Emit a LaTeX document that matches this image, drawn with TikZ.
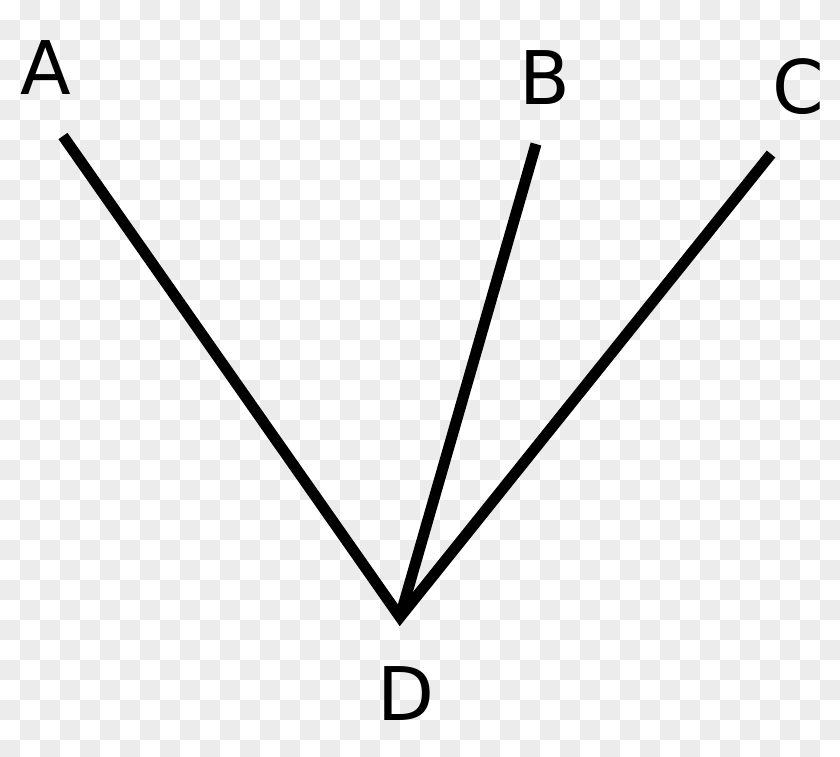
\documentclass[tikz,border=0pt]{standalone}
\usepackage{fontspec}
\setmainfont{DejaVu Sans}
\usepackage{tikz}
\definecolor{checkgray}{RGB}{236,236,236}
\tikzset{
  leg/.style={line width=11pt, line join=miter},
  lbl/.style={inner sep=0pt, font=\fontsize{74}{80}\selectfont}
}

\begin{document}
\begin{tikzpicture}[x=1pt,y=-1pt]
  \useasboundingbox (0,0) rectangle (840,756);
  % checkered background
  \fill[white] (0,0) rectangle (840,756);
  \foreach \i in {0,...,41}
    \foreach \j in {0,...,37}{
      \pgfmathparse{int(mod(\i+\j,2))}
      \ifnum\pgfmathresult=1
        \fill[checkgray] (20*\i,20*\j) rectangle ++(20,20);
      \fi
    }
  \coordinate (a) at (63,136);
  \coordinate (b) at (536,144);
  \coordinate (c) at (771,154);
  \coordinate (d) at (400,617);
  \draw[leg] (a) -- (d) -- (c);
  \draw[leg] (b) -- (d);
  \node[lbl] (A) at (46,68) {A};
  \node[lbl] (B) at (545,78) {B};
  \node[lbl] (C) at (798,87) {C};
  \node[lbl] (D) at (406,694) {D};
\end{tikzpicture}
\end{document}
